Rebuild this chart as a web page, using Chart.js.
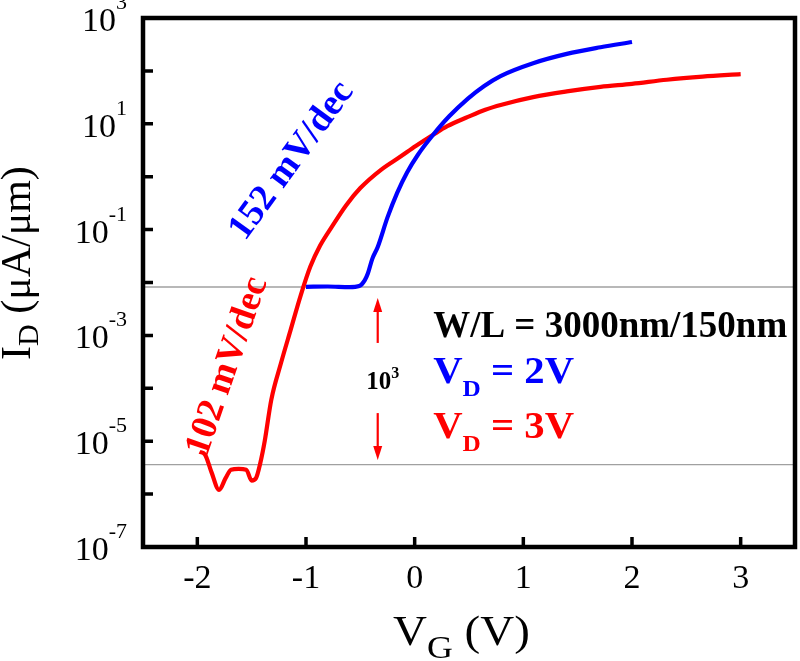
<!DOCTYPE html>
<html>
<head>
<meta charset="utf-8">
<script src="https://cdn.jsdelivr.net/npm/chart.js@4.4.0/dist/chart.umd.min.js"></script>
<style>
  html, body { margin: 0; padding: 0; background: #fff; }
  #wrap { width: 800px; height: 661px; position: relative; }
</style>
</head>
<body>
<div id="wrap"><canvas id="idvg"></canvas></div>
<script>
// transfer curve, V_D = 2 V (blue)
const vgBlue = [-1.0, -0.8, -0.6, -0.51, -0.46, -0.43, -0.39, -0.34, -0.25, -0.16, -0.07, 0.03, 0.17, 0.32, 0.49, 0.64, 0.79, 1.09, 1.4, 1.71, 2.0];
const idBlue = [8.3e-3, 8.4e-3, 8.2e-3, 8.6e-3, 1.1e-2, 1.5e-2, 2.8e-2, 4.7e-2, 0.17, 0.5, 1.2, 2.6, 6.2, 14, 30, 52, 80, 140, 210, 280, 352];

// transfer curve, V_D = 3 V (red)
const vgRed = [-1.98, -1.93, -1.87, -1.8, -1.74, -1.69, -1.62, -1.55, -1.5, -1.46, -1.42, -1.38, -1.32, -1.23, -1.14, -1.05, -0.96, -0.87, -0.77, -0.63, -0.5, -0.31, -0.13, 0.01, 0.17, 0.3, 0.49, 0.65, 0.8, 1.09, 1.4, 1.71, 2.0, 2.32, 2.65, 3.0];
const idRed = [6.3e-6, 5.6e-6, 2.6e-6, 1.2e-6, 2.0e-6, 2.9e-6, 3.0e-6, 2.9e-6, 1.8e-6, 2.0e-6, 3.9e-6, 1.0e-5, 6.0e-5, 3.0e-4, 1.3e-3, 5.6e-3, 2.0e-2, 5.0e-2, 0.107, 0.29, 0.61, 1.35, 2.4, 3.8, 6.2, 9.0, 13.5, 18.5, 23, 32, 41, 50, 57, 68, 78, 87];

// on / off reference levels (grey lines)
const refLevels = [8.2e-3, 3.6e-6];

const xTicks = [-2, -1, 0, 1, 2, 3];
const yDecades = [-7, -6, -5, -4, -3, -2, -1, 0, 1, 2, 3];
const yLabelExps = [3, 1, -1, -3, -5, -7];

const SERIF = '"Liberation Serif", "Times New Roman", serif';
const BLUE = '#0000ff';
const RED = '#ff0000';

const toPoints = (xs, ys) => xs.map((x, i) => ({ x, y: ys[i] }));

// draw a row of text runs (for sub/superscripts), optionally rotated
function drawRuns(ctx, runs, x, y, opt = {}) {
  ctx.save();
  ctx.translate(x, y);
  if (opt.rot) ctx.rotate(opt.rot);
  ctx.scale(opt.sx || 1, 1);
  ctx.textBaseline = opt.baseline || 'alphabetic';
  ctx.textAlign = 'left';
  let total = 0;
  runs.forEach(r => { ctx.font = r.font; total += ctx.measureText(r.t).width; });
  let cx = opt.align === 'center' ? -total / 2 : opt.align === 'right' ? -total : 0;
  runs.forEach(r => {
    ctx.font = r.font;
    ctx.fillStyle = r.color || '#000';
    ctx.fillText(r.t, cx, r.dy || 0);
    cx += ctx.measureText(r.t).width;
  });
  ctx.restore();
}

function arrow(ctx, x, y0, y1, color) {
  const dir = Math.sign(y1 - y0);
  ctx.save();
  ctx.strokeStyle = color;
  ctx.fillStyle = color;
  ctx.lineWidth = 2.2;
  ctx.beginPath();
  ctx.moveTo(x, y0);
  ctx.lineTo(x, y1 - dir * 12);
  ctx.stroke();
  ctx.beginPath();
  ctx.moveTo(x, y1);
  ctx.lineTo(x - 4.5, y1 - dir * 14);
  ctx.lineTo(x + 4.5, y1 - dir * 14);
  ctx.closePath();
  ctx.fill();
  ctx.restore();
}

const framePlugin = {
  id: 'frame',
  afterDraw(chart) {
    const { ctx, chartArea: a, scales: { x, y } } = chart;

    // frame
    ctx.save();
    ctx.strokeStyle = '#000';
    ctx.lineWidth = 4.5;
    ctx.strokeRect(a.left, a.top, a.right - a.left, a.bottom - a.top);

    // inward ticks
    ctx.lineWidth = 3.5;
    ctx.beginPath();
    xTicks.forEach(v => {
      const px = x.getPixelForValue(v);
      ctx.moveTo(px, a.bottom);
      ctx.lineTo(px, a.bottom - 10);
    });
    yDecades.slice(1, -1).forEach(e => {
      const py = y.getPixelForValue(Math.pow(10, e));
      ctx.moveTo(a.left, py);
      ctx.lineTo(a.left + 10, py);
    });
    ctx.stroke();
    ctx.restore();

    // y tick labels 10^n
    yLabelExps.forEach(e => {
      const py = y.getPixelForValue(Math.pow(10, e));
      drawRuns(ctx, [
        { t: '10', font: '34px ' + SERIF },
        { t: String(e), font: '22px ' + SERIF, dy: -22 }
      ], a.left - 16, py + 13, { align: 'right' });
    });

    // axis titles
    drawRuns(ctx, [
      { t: 'I', font: '42px ' + SERIF },
      { t: 'D', font: '30px ' + SERIF, dy: 8 },
      { t: ' (\u03bcA/\u03bcm)', font: '42px ' + SERIF }
    ], 30, 360, { rot: -Math.PI / 2 });
    drawRuns(ctx, [
      { t: 'V', font: '42px ' + SERIF },
      { t: 'G', font: '32px ' + SERIF, dy: 13 },
      { t: ' (V)', font: '42px ' + SERIF }
    ], 393, 645, { sx: 1.12 });

    // slope annotations
    drawRuns(ctx, [{ t: '152 mV/dec', font: 'bold 37px ' + SERIF, color: BLUE }],
      x.getPixelForValue(-1.13), y.getPixelForValue(2.0),
      { rot: -54 * Math.PI / 180, align: 'center', baseline: 'middle' });
    drawRuns(ctx, [{ t: '102 mV/dec', font: 'bold 37px ' + SERIF, color: RED }],
      x.getPixelForValue(-1.72), y.getPixelForValue(2.6e-4),
      { rot: -71 * Math.PI / 180, align: 'center', baseline: 'middle' });

    // device / bias text
    const lx = x.getPixelForValue(0.17);
    drawRuns(ctx, [{ t: 'W/L = 3000nm/150nm', font: 'bold 37px ' + SERIF }],
      lx, y.getPixelForValue(9.3e-4));
    drawRuns(ctx, [
      { t: 'V', font: 'bold 37px ' + SERIF, color: BLUE },
      { t: 'D', font: 'bold 23px ' + SERIF, color: BLUE, dy: 13 },
      { t: ' = 2V', font: 'bold 37px ' + SERIF, color: BLUE }
    ], lx, y.getPixelForValue(1.26e-4), { sx: 1.1 });
    drawRuns(ctx, [
      { t: 'V', font: 'bold 37px ' + SERIF, color: RED },
      { t: 'D', font: 'bold 23px ' + SERIF, color: RED, dy: 13 },
      { t: ' = 3V', font: 'bold 37px ' + SERIF, color: RED }
    ], lx, y.getPixelForValue(1.15e-5), { sx: 1.1 });

    // on/off ratio marker
    const ax = x.getPixelForValue(-0.34);
    arrow(ctx, ax, y.getPixelForValue(7.2e-4), y.getPixelForValue(5.1e-3), RED);
    arrow(ctx, ax, y.getPixelForValue(3.4e-5), y.getPixelForValue(4.4e-6), RED);
    drawRuns(ctx, [
      { t: '10', font: 'bold 25px ' + SERIF },
      { t: '3', font: 'bold 16px ' + SERIF, dy: -11 }
    ], ax + 5, y.getPixelForValue(9.8e-5), { align: 'center' });
  }
};

new Chart(document.getElementById('idvg'), {
  type: 'line',
  data: {
    datasets: [
      {
        label: 'VD = 2V',
        data: toPoints(vgBlue, idBlue),
        borderColor: BLUE,
        borderWidth: 4.2,
        pointRadius: 0,
        cubicInterpolationMode: 'monotone',
        order: 1
      },
      {
        label: 'VD = 3V',
        data: toPoints(vgRed, idRed),
        borderColor: RED,
        borderWidth: 4.2,
        pointRadius: 0,
        cubicInterpolationMode: 'monotone',
        order: 2
      },
      ...refLevels.map(v => ({
        label: 'ref',
        data: [{ x: -2.5, y: v }, { x: 3.5, y: v }],
        borderColor: '#a0a0a0',
        borderWidth: 1.4,
        pointRadius: 0,
        order: 3
      }))
    ]
  },
  options: {
    responsive: true,
    maintainAspectRatio: false,
    animation: false,
    layout: { padding: { left: 0, right: 5, top: 18, bottom: 0 } },
    plugins: { legend: { display: false }, tooltip: { enabled: false } },
    scales: {
      x: {
        type: 'linear',
        min: -2.5,
        max: 3.5,
        grid: { display: false },
        border: { display: false },
        afterBuildTicks: s => { s.ticks = xTicks.map(v => ({ value: v })); },
        afterFit: s => { s.height = 114; },
        ticks: {
          color: '#000',
          padding: 4,
          font: { family: SERIF, size: 34 },
          callback: v => String(v)
        }
      },
      y: {
        type: 'logarithmic',
        min: 1e-7,
        max: 1e3,
        grid: { display: false },
        border: { display: false },
        afterBuildTicks: s => { s.ticks = yDecades.map(e => ({ value: Math.pow(10, e) })); },
        afterFit: s => { s.width = 143; },
        ticks: { display: false }
      }
    }
  },
  plugins: [framePlugin]
});
</script>
</body>
</html>
